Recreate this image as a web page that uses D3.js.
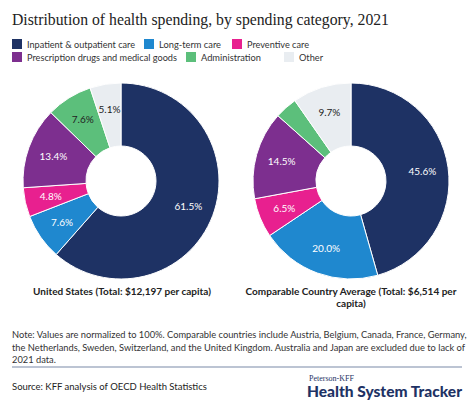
<!DOCTYPE html><html><head><meta charset="utf-8"><script src="https://cdn.jsdelivr.net/npm/d3@7"></script>
<style>body{margin:0;background:#fff;font-family:Lato,"Open Sans",sans-serif}</style></head><body><svg id="c" width="474" height="418"></svg>
<script>
const categories=["Inpatient & outpatient care","Long-term care","Preventive care","Prescription drugs and medical goods","Administration","Other"];
const usValues=[61.5,7.6,4.8,13.4,7.6,5.1];
const compValues=[45.6,20.0,6.5,14.5,3.7,9.7];
const compLabels=["45.6%","20.0%","6.5%","14.5%","","9.7%"];
const usLabels=["61.5%","7.6%","4.8%","13.4%","7.6%","5.1%"];
const colors=["#1e3264","#1f88cf","#e8208f","#7d2f8f","#5cbf7b","#e9edf1"];
const textCol=["#fff","#fff","#fff","#fff","#222","#222"];
const svg=d3.select("#c");
svg.append("text").attr("x",12).attr("y",25).attr("font-family","'Liberation Serif',serif").attr("font-size",17).attr("textLength",377).attr("lengthAdjust","spacingAndGlyphs").attr("fill","#222").text("Distribution of health spending, by spending category, 2021");
const leg=[[12,39],[144,39],[232,39],[12,52],[186,52],[284,52]];
const legW=[108,62,62,150,60,24];
categories.forEach((c,i)=>{const g=svg.append("g").attr("transform",`translate(${leg[i][0]},${leg[i][1]})`);
g.append("rect").attr("width",10).attr("height",10).attr("fill",colors[i]);
g.append("text").attr("x",15).attr("y",9).attr("font-size",9.5).attr("textLength",legW[i]).attr("lengthAdjust","spacingAndGlyphs").attr("fill","#333").text(c);});
const pie=d3.pie().sort(null).value(d=>d);
function donut(cx,cy,vals,labels){const R=98,r=35;
const arc=d3.arc().innerRadius(r).outerRadius(R);const la=d3.arc().innerRadius(72).outerRadius(72);
const g=svg.append("g").attr("transform",`translate(${cx},${cy})`);
pie(vals).forEach((d,i)=>{g.append("path").attr("d",arc(d)).attr("fill",colors[i]).attr("stroke","#fff").attr("stroke-width",1);
if(labels[i]){const p=la.centroid(d);g.append("text").attr("x",p[0]).attr("y",p[1]).attr("dy","0.35em").attr("text-anchor","middle").attr("font-size",10).attr("fill",textCol[i]).text(labels[i]);}});}
donut(121,181,usValues,usLabels);
donut(351,181,compValues,compLabels);
const b=(x,y,t)=>svg.append("text").attr("x",x).attr("y",y).attr("text-anchor","middle").attr("font-size",10).attr("font-weight","bold").attr("fill","#222").text(t);
b(122,295,"United States (Total: $12,197 per capita)");
b(351,295,"Comparable Country Average (Total: $6,514 per");
b(351,307,"capita)");
["Note: Values are normalized to 100%. Comparable countries include Austria, Belgium, Canada, France, Germany,","the Netherlands, Sweden, Switzerland, and the United Kingdom. Australia and Japan are excluded due to lack of","2021 data."].forEach((t,i)=>svg.append("text").attr("x",12).attr("y",338+i*12.5).attr("font-size",9.3).attr("fill","#333").text(t));
svg.append("line").attr("x1",12).attr("x2",462).attr("y1",367).attr("y2",367).attr("stroke","#7a8aa8").attr("stroke-width",1.2);
svg.append("text").attr("x",12).attr("y",390).attr("font-size",9.5).attr("fill","#222").text("Source: KFF analysis of OECD Health Statistics");
svg.append("text").attr("x",309).attr("y",381).attr("font-family","Georgia,serif").attr("font-size",8).attr("fill","#1e3264").text("Peterson-KFF");
svg.append("text").attr("x",462).attr("y",397).attr("text-anchor","end").attr("font-size",15.5).attr("font-weight","900").attr("fill","#1e3264").text("Health System Tracker");
</script></body></html>
